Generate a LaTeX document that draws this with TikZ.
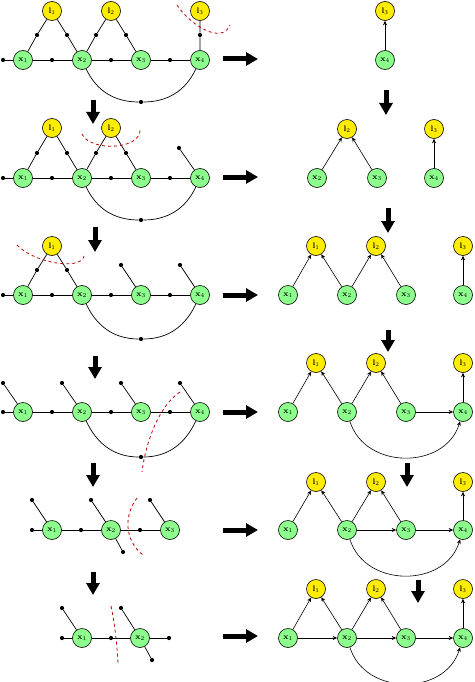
\documentclass[tikz,border=0pt]{standalone}
\usetikzlibrary{arrows.meta}
\begin{document}
\begin{tikzpicture}[x=1pt,y=-1pt,
  var/.style={circle,draw=black,line width=0.6pt,fill=green!45!white,minimum size=19pt,inner sep=0pt,font=\fontsize{8}{9}\selectfont},
  lm/.style={circle,draw=black,line width=0.6pt,fill=yellow!95!orange,minimum size=19pt,inner sep=0pt,font=\fontsize{8}{9}\selectfont},
  fac/.style={circle,fill=black,minimum size=4.2pt,inner sep=0pt},
  edge/.style={line width=0.7pt},
  darr/.style={-{Stealth[length=4.5pt,width=4pt]},line width=0.6pt},
  cut/.style={draw=red!75!black,dashed,line width=0.8pt},
  big/.style={line width=5pt,-{Triangle[length=12pt,width=13pt]}}]
\useasboundingbox (0,0) rectangle (474,682);

% ---------- Row 1 left ----------
\node[fac] (af0) at (3,60) {};
\node[fac] (af12) at (52,60) {};
\node[fac] (af23) at (111,60) {};
\node[fac] (af34) at (170,60) {};
\node[fac] (afa) at (37,35) {};
\node[fac] (afb) at (67,35) {};
\node[fac] (afc) at (96,35) {};
\node[fac] (afd) at (126,35) {};
\node[fac] (afe) at (200,35) {};
\node[fac] (afarc) at (141,102) {};
\node[var] (ax1) at (23,60) {$\mathbf{x}_1$};
\node[var] (ax2) at (82,60) {$\mathbf{x}_2$};
\node[var] (ax3) at (141,60) {$\mathbf{x}_3$};
\node[var] (ax4) at (200,60) {$\mathbf{x}_4$};
\node[lm] (al1) at (52,11) {$\mathbf{l}_1$};
\node[lm] (al2) at (111,11) {$\mathbf{l}_2$};
\node[lm] (al3) at (200,11) {$\mathbf{l}_3$};
\draw[edge] (af0)--(ax1) (ax1)--(af12) (af12)--(ax2) (ax2)--(af23) (af23)--(ax3) (ax3)--(af34) (af34)--(ax4);
\draw[edge] (ax1)--(afa) (afa)--(al1) (al1)--(afb) (afb)--(ax2) (ax2)--(afc) (afc)--(al2) (al2)--(afd) (afd)--(ax3) (ax4)--(afe) (afe)--(al3);
\draw[edge] (ax2) to[out=-65,in=180] (afarc) (afarc) to[out=0,in=-115] (ax4);
\draw[cut] (177,5) .. controls (190,25) and (222,45) .. (230,25);

% ---------- Row 1 right ----------
\node[lm] (rl3a) at (385,11) {$\mathbf{l}_3$};
\node[var] (rx4a) at (385,60) {$\mathbf{x}_4$};
\draw[darr] (rx4a)--(rl3a);

% ---------- Row 2 left ----------
\node[fac] (bf0) at (3,178) {};
\node[fac] (bf12) at (52,178) {};
\node[fac] (bf23) at (111,178) {};
\node[fac] (bf34) at (170,178) {};
\node[fac] (bfa) at (37,153) {};
\node[fac] (bfb) at (67,153) {};
\node[fac] (bfc) at (96,153) {};
\node[fac] (bfd) at (126,153) {};
\node[fac] (bfe) at (179,148) {};
\node[fac] (bfarc) at (141,220) {};
\node[var] (bx1) at (23,178) {$\mathbf{x}_1$};
\node[var] (bx2) at (82,178) {$\mathbf{x}_2$};
\node[var] (bx3) at (141,178) {$\mathbf{x}_3$};
\node[var] (bx4) at (200,178) {$\mathbf{x}_4$};
\node[lm] (bl1) at (52,128) {$\mathbf{l}_1$};
\node[lm] (bl2) at (111,128) {$\mathbf{l}_2$};
\draw[edge] (bf0)--(bx1) (bx1)--(bf12) (bf12)--(bx2) (bx2)--(bf23) (bf23)--(bx3) (bx3)--(bf34) (bf34)--(bx4);
\draw[edge] (bx1)--(bfa) (bfa)--(bl1) (bl1)--(bfb) (bfb)--(bx2) (bx2)--(bfc) (bfc)--(bl2) (bl2)--(bfd) (bfd)--(bx3) (bx4)--(bfe);
\draw[edge] (bx2) to[out=-65,in=180] (bfarc) (bfarc) to[out=0,in=-115] (bx4);
\draw[cut] (82,134) .. controls (90,152) and (142,150) .. (140,129);

% ---------- Row 2 right ----------
\node[lm] (rl2b) at (347,129) {$\mathbf{l}_2$};
\node[lm] (rl3b) at (434,129) {$\mathbf{l}_3$};
\node[var] (rx2b) at (317,178) {$\mathbf{x}_2$};
\node[var] (rx3b) at (377,178) {$\mathbf{x}_3$};
\node[var] (rx4b) at (434,178) {$\mathbf{x}_4$};
\draw[darr] (rx2b)--(rl2b);
\draw[darr] (rx3b)--(rl2b);
\draw[darr] (rx4b)--(rl3b);

% ---------- Row 3 left ----------
\node[fac] (cf0) at (3,295) {};
\node[fac] (cf12) at (52,295) {};
\node[fac] (cf23) at (111,295) {};
\node[fac] (cf34) at (170,295) {};
\node[fac] (cfa) at (37,270) {};
\node[fac] (cfb) at (67,270) {};
\node[fac] (cfc) at (121,265) {};
\node[fac] (cfd) at (180,265) {};
\node[fac] (cfarc) at (141,339) {};
\node[var] (cx1) at (23,295) {$\mathbf{x}_1$};
\node[var] (cx2) at (82,295) {$\mathbf{x}_2$};
\node[var] (cx3) at (141,295) {$\mathbf{x}_3$};
\node[var] (cx4) at (200,295) {$\mathbf{x}_4$};
\node[lm] (cl1) at (52,246) {$\mathbf{l}_1$};
\draw[edge] (cf0)--(cx1) (cx1)--(cf12) (cf12)--(cx2) (cx2)--(cf23) (cf23)--(cx3) (cx3)--(cf34) (cf34)--(cx4);
\draw[edge] (cx1)--(cfa) (cfa)--(cl1) (cl1)--(cfb) (cfb)--(cx2) (cx3)--(cfc) (cx4)--(cfd);
\draw[edge] (cx2) to[out=-65,in=180] (cfarc) (cfarc) to[out=0,in=-115] (cx4);
\draw[cut] (17,245) .. controls (35,264) and (87,272) .. (84,253);

% ---------- Row 3 right ----------
\node[lm] (rl1c) at (316,246) {$\mathbf{l}_1$};
\node[lm] (rl2c) at (376,246) {$\mathbf{l}_2$};
\node[lm] (rl3c) at (463,246) {$\mathbf{l}_3$};
\node[var] (rx1c) at (288,295) {$\mathbf{x}_1$};
\node[var] (rx2c) at (347,295) {$\mathbf{x}_2$};
\node[var] (rx3c) at (406,295) {$\mathbf{x}_3$};
\node[var] (rx4c) at (463,295) {$\mathbf{x}_4$};
\draw[darr] (rx1c)--(rl1c);
\draw[darr] (rx2c)--(rl1c);
\draw[darr] (rx2c)--(rl2c);
\draw[darr] (rx3c)--(rl2c);
\draw[darr] (rx4c)--(rl3c);

% ---------- Row 4 left ----------
\node[fac] (df0) at (3,412) {};
\node[fac] (df12) at (52,412) {};
\node[fac] (df23) at (111,412) {};
\node[fac] (df34) at (170,412) {};
\node[fac] (dfa) at (3,383) {};
\node[fac] (dfb) at (62,383) {};
\node[fac] (dfc) at (121,383) {};
\node[fac] (dfd) at (180,383) {};
\node[fac] (dfarc) at (141,457) {};
\node[var] (dx1) at (23,412) {$\mathbf{x}_1$};
\node[var] (dx2) at (82,412) {$\mathbf{x}_2$};
\node[var] (dx3) at (141,412) {$\mathbf{x}_3$};
\node[var] (dx4) at (200,412) {$\mathbf{x}_4$};
\draw[edge] (df0)--(dx1) (dx1)--(df12) (df12)--(dx2) (dx2)--(df23) (df23)--(dx3) (dx3)--(df34) (df34)--(dx4);
\draw[edge] (dx1)--(dfa) (dx2)--(dfb) (dx3)--(dfc) (dx4)--(dfd);
\draw[edge] (dx2) to[out=-65,in=180] (dfarc) (dfarc) to[out=0,in=-115] (dx4);
\draw[cut] (180,392) .. controls (160,405) and (146,440) .. (142,472);

% ---------- Row 4 right ----------
\node[lm] (rl1d) at (316,363) {$\mathbf{l}_1$};
\node[lm] (rl2d) at (376,363) {$\mathbf{l}_2$};
\node[lm] (rl3d) at (463,363) {$\mathbf{l}_3$};
\node[var] (rx1d) at (288,412) {$\mathbf{x}_1$};
\node[var] (rx2d) at (347,412) {$\mathbf{x}_2$};
\node[var] (rx3d) at (406,412) {$\mathbf{x}_3$};
\node[var] (rx4d) at (463,412) {$\mathbf{x}_4$};
\draw[darr] (rx1d)--(rl1d);
\draw[darr] (rx2d)--(rl1d);
\draw[darr] (rx2d)--(rl2d);
\draw[darr] (rx3d)--(rl2d);
\draw[darr] (rx4d)--(rl3d);
\draw[darr] (rx3d)--(rx4d);
\draw[darr] (rx2d) .. controls (365,470) and (445,470) .. (rx4d);

% ---------- Row 5 left ----------
\node[fac] (ef0) at (32,530) {};
\node[fac] (ef12) at (81,530) {};
\node[fac] (ef23) at (140,530) {};
\node[fac] (efa) at (32,500) {};
\node[fac] (efb) at (91,500) {};
\node[fac] (efc) at (150,500) {};
\node[fac] (efd) at (123,552) {};
\node[var] (ex1) at (52,530) {$\mathbf{x}_1$};
\node[var] (ex2) at (111,530) {$\mathbf{x}_2$};
\node[var] (ex3) at (170,530) {$\mathbf{x}_3$};
\draw[edge] (ef0)--(ex1) (ex1)--(ef12) (ef12)--(ex2) (ex2)--(ef23) (ef23)--(ex3);
\draw[edge] (ex1)--(efa) (ex2)--(efb) (ex3)--(efc) (ex2)--(efd);
\draw[cut] (137,498) .. controls (124,515) and (124,540) .. (143,555);

% ---------- Row 5 right ----------
\node[lm] (rl1e) at (316,482) {$\mathbf{l}_1$};
\node[lm] (rl2e) at (376,482) {$\mathbf{l}_2$};
\node[lm] (rl3e) at (463,482) {$\mathbf{l}_3$};
\node[var] (rx1e) at (288,530) {$\mathbf{x}_1$};
\node[var] (rx2e) at (347,530) {$\mathbf{x}_2$};
\node[var] (rx3e) at (406,530) {$\mathbf{x}_3$};
\node[var] (rx4e) at (463,530) {$\mathbf{x}_4$};
\draw[darr] (rx1e)--(rl1e);
\draw[darr] (rx2e)--(rl1e);
\draw[darr] (rx2e)--(rl2e);
\draw[darr] (rx3e)--(rl2e);
\draw[darr] (rx4e)--(rl3e);
\draw[darr] (rx2e)--(rx3e);
\draw[darr] (rx3e)--(rx4e);
\draw[darr] (rx2e) .. controls (365,588) and (445,588) .. (rx4e);

% ---------- Row 6 left ----------
\node[fac] (ff0) at (62,638) {};
\node[fac] (ff12) at (111,638) {};
\node[fac] (ff23) at (169,638) {};
\node[fac] (ffa) at (62,608) {};
\node[fac] (ffb) at (121,608) {};
\node[fac] (ffc) at (152,660) {};
\node[var] (fx1) at (82,638) {$\mathbf{x}_1$};
\node[var] (fx2) at (140,638) {$\mathbf{x}_2$};
\draw[edge] (ff0)--(fx1) (fx1)--(ff12) (ff12)--(fx2) (fx2)--(ff23);
\draw[edge] (fx1)--(ffa) (fx2)--(ffb) (fx2)--(ffc);
\draw[cut] (111,606) .. controls (115,625) and (117,645) .. (118,663);

% ---------- Row 6 right ----------
\node[lm] (rl1f) at (316,589) {$\mathbf{l}_1$};
\node[lm] (rl2f) at (376,589) {$\mathbf{l}_2$};
\node[lm] (rl3f) at (463,589) {$\mathbf{l}_3$};
\node[var] (rx1f) at (288,638) {$\mathbf{x}_1$};
\node[var] (rx2f) at (347,638) {$\mathbf{x}_2$};
\node[var] (rx3f) at (406,638) {$\mathbf{x}_3$};
\node[var] (rx4f) at (463,638) {$\mathbf{x}_4$};
\draw[darr] (rx1f)--(rl1f);
\draw[darr] (rx2f)--(rl1f);
\draw[darr] (rx2f)--(rl2f);
\draw[darr] (rx3f)--(rl2f);
\draw[darr] (rx4f)--(rl3f);
\draw[darr] (rx1f)--(rx2f);
\draw[darr] (rx2f)--(rx3f);
\draw[darr] (rx3f)--(rx4f);
\draw[darr] (rx2f) .. controls (365,696) and (445,696) .. (rx4f);

% ---------- Big arrows ----------
\coordinate (ra1) at (223,59);  \coordinate (rb1) at (258,59);
\coordinate (ra2) at (223,177); \coordinate (rb2) at (258,177);
\coordinate (ra3) at (223,295); \coordinate (rb3) at (258,295);
\coordinate (ra4) at (223,412); \coordinate (rb4) at (258,412);
\coordinate (ra5) at (223,530); \coordinate (rb5) at (258,530);
\coordinate (ra6) at (223,636); \coordinate (rb6) at (258,636);
\foreach \i in {1,...,6} \draw[big] (ra\i)--(rb\i);

\coordinate (da1) at (93,100);  \coordinate (db1) at (93,124);
\coordinate (da2) at (95,227);  \coordinate (db2) at (95,252);
\coordinate (da3) at (95,356);  \coordinate (db3) at (95,379);
\coordinate (da4) at (93,463);  \coordinate (db4) at (93,487);
\coordinate (da5) at (93,572);  \coordinate (db5) at (93,595);
\coordinate (dc1) at (386,90);  \coordinate (dd1) at (386,115);
\coordinate (dc2) at (388,208); \coordinate (dd2) at (388,233);
\coordinate (dc3) at (388,330); \coordinate (dd3) at (388,352);
\coordinate (dc4) at (407,463); \coordinate (dd4) at (407,487);
\coordinate (dc5) at (418,580); \coordinate (dd5) at (418,603);
\foreach \i in {1,...,5} {\draw[big] (da\i)--(db\i); \draw[big] (dc\i)--(dd\i);}
\end{tikzpicture}
\end{document}
